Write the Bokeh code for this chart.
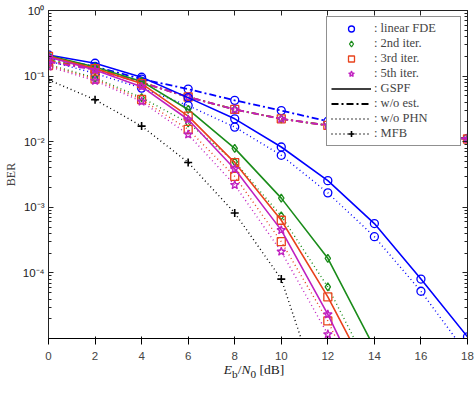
from bokeh.plotting import figure
from bokeh.layouts import column
from bokeh.models import (ColumnDataSource, Legend, LegendItem, FixedTicker,
                          LinearAxis, LogAxis, CustomJSTickFormatter, Div)
from bokeh.embed import file_html
from bokeh.resources import INLINE

# ---------------- data ----------------
snr = [0, 2, 4, 6, 8, 10, 12, 14, 16, 18]

lin_gspf = [0.21, 0.157, 0.096, 0.047, 0.0223, 0.0083, 0.00255, 5.65e-4, 8.05e-5, 1.06e-5]
lin_noest = [0.19, 0.14, 0.09, 0.0634, 0.0427, 0.0298, 0.0205, 0.016, 0.013, 0.0112]
lin_nophn = [0.17, 0.11, 0.0656, 0.0355, 0.0167, 0.0062, 0.00166, 3.56e-4, 5.25e-5, 5.7e-6]

it2_gspf = [0.205, 0.138, 0.083, 0.031, 0.0079, 0.00138, 1.67e-4, 7.2e-6]
it2_noest = [0.175, 0.13, 0.08, 0.048, 0.031, 0.0223, 0.0177, 0.0145, 0.0125, 0.011]
it2_nophn = [0.15, 0.094, 0.047, 0.0194, 0.00494, 7.4e-4, 6.1e-5, 2.5e-6]

it3_gspf = [0.2, 0.13, 0.077, 0.0245, 0.0048, 6.35e-4, 4.3e-5, 1.9e-6]
it3_noest = [0.17, 0.128, 0.08, 0.048, 0.031, 0.0223, 0.0177, 0.0145, 0.0125, 0.011]
it3_nophn = [0.145, 0.09, 0.044, 0.0154, 0.00297, 2.99e-4, 1.85e-5, 6e-7]

it5_gspf = [0.195, 0.124, 0.069, 0.0218, 0.00383, 4.49e-4, 2.33e-5, 8e-7]
it5_noest = [0.165, 0.125, 0.08, 0.048, 0.031, 0.0223, 0.0177, 0.0145, 0.0125, 0.011]
it5_nophn = [0.14, 0.085, 0.041, 0.0129, 0.00219, 2.11e-4, 1.16e-5, 3e-7]

mfb = [0.0877, 0.0437, 0.0173, 0.00483, 8.2e-4, 8.05e-5, 6e-7]

x_ticks = [0, 2, 4, 6, 8, 10, 12, 14, 16, 18]
y_ticks = [1e-4, 1e-3, 1e-2, 1e-1, 1.0]
y_tick_labels = ["10⁻⁴", "10⁻³", "10⁻²", "10⁻¹", "10⁰"]

series_names = [": linear FDE", ": 2nd iter.", ": 3rd iter.", ": 5th iter."]
style_names = [": GSPF", ": w/o est.", ": w/o PHN"]
mfb_name = ": MFB"
xlabel_html = "<i>E</i><sub>b</sub>/<i>N</i><sub>0</sub>&nbsp;[dB]"
ylabel = "BER"

# ---------------- styling ----------------
colors = ["#0000ff", "#1a8c1a", "#e8431c", "#c020c0"]
markers = ["circle", "diamond", "square", "star"]
msizes = [8, 8, 8, 9]
dashes = ["solid", "7 3 2 3", "1 3"]
lwidths = [1.6, 1.8, 1.4]

groups = [
    [lin_gspf, lin_noest, lin_nophn],
    [it2_gspf, it2_noest, it2_nophn],
    [it3_gspf, it3_noest, it3_nophn],
    [it5_gspf, it5_noest, it5_nophn],
]

p = figure(width=474, height=362, y_axis_type="log",
           x_range=(0, 18), y_range=(1e-5, 1),
           output_backend="svg", toolbar_location=None,
           min_border_left=45, min_border_right=7,
           min_border_top=10, min_border_bottom=21)
p.grid.visible = False
p.outline_line_color = "#222222"
p.background_fill_color = "white"
p.border_fill_color = "white"

marker_renderers = []
# draw order: dotted, dash-dot, solid
for s in [2, 1, 0]:
    for g in range(4):
        yv = groups[g][s]
        src = ColumnDataSource(dict(x=snr[:len(yv)], y=yv))
        p.line("x", "y", source=src, line_color=colors[g], line_width=lwidths[s],
               line_dash=dashes[s])
        r = p.scatter("x", "y", source=src, marker=markers[g], size=msizes[g],
                      line_color=colors[g], fill_color=None, line_width=1.3)
        if s == 0:
            marker_renderers.append(r)

msrc = ColumnDataSource(dict(x=snr[:len(mfb)], y=mfb))
mfb_line = p.line("x", "y", source=msrc, line_color="black", line_width=1.4, line_dash="1 3")
mfb_sc = p.scatter("x", "y", source=msrc, marker="cross", size=8,
                   line_color="black", line_width=1.6)

# legend-only black line samples (hidden renderers, shown only in the legend)
style_renderers = []
for s in range(3):
    ssrc = ColumnDataSource(dict(x=snr, y=groups[0][s]))
    rr = p.line("x", "y", source=ssrc, line_color="black",
                line_width=lwidths[s], line_dash=dashes[s])
    rr.visible = False
    style_renderers.append(rr)

items = [LegendItem(label=series_names[g], renderers=[marker_renderers[g]]) for g in range(4)]
items += [LegendItem(label=style_names[s], renderers=[style_renderers[s]]) for s in range(3)]
items.append(LegendItem(label=mfb_name, renderers=[mfb_line, mfb_sc]))

leg = Legend(items=items, location="top_right", margin=6, padding=4, spacing=0,
             glyph_width=40, glyph_height=15, label_height=15, label_width=82,
             label_standoff=3,
             label_text_font="Liberation Serif", label_text_font_size="12.5px",
             border_line_color="#222222", border_line_width=1,
             background_fill_color="white", background_fill_alpha=1.0,
             inactive_fill_alpha=0.0)
p.add_layout(leg)

# ---------------- axes ----------------
font_sans = "Liberation Sans"
xt = FixedTicker(ticks=x_ticks)
minor_y = [k * 10.0 ** d for d in range(-5, 0) for k in range(2, 10)]
yt = FixedTicker(ticks=y_ticks, minor_ticks=minor_y)

for ax in p.xaxis:
    ax.ticker = xt
    ax.major_label_text_font = font_sans
    ax.major_label_text_font_size = "11.5px"
    ax.major_label_standoff = 7
for ax in p.yaxis:
    ax.ticker = yt
    ax.major_label_overrides = {v: t for v, t in zip(y_ticks, y_tick_labels)}
    ax.major_label_text_font = font_sans
    ax.major_label_text_font_size = "11.5px"
    ax.major_label_standoff = 4
    ax.axis_label = ylabel
    ax.axis_label_text_font = "Liberation Serif"
    ax.axis_label_text_font_style = "normal"
    ax.axis_label_text_font_size = "12px"
    ax.axis_label_standoff = 2

blank = CustomJSTickFormatter(code="return '';")
top = LinearAxis(ticker=xt, formatter=blank)
right = LogAxis(ticker=yt, formatter=blank)
p.add_layout(top, "above")
p.add_layout(right, "right")
for ax in [top, right]:
    ax.major_label_standoff = 0

for ax in [p.xaxis[0], p.yaxis[0], top, right]:
    ax.axis_line_color = "#222222"
    ax.major_tick_line_color = "#222222"
    ax.minor_tick_line_color = "#222222"
    ax.major_tick_in = 5
    ax.major_tick_out = 0
    ax.minor_tick_in = 3
    ax.minor_tick_out = 0
    ax.major_label_text_color = "#222222"

# x-axis label (with subscripts) as real HTML text right under the plot
xlab = Div(text=xlabel_html, width=474, height=35, margin=(0, 0, 0, 0),
           styles={"font-family": "Liberation Serif", "font-size": "13.5px",
                   "color": "#222222", "text-align": "center",
                   "padding-left": "34px", "line-height": "15px",
                   "box-sizing": "border-box"})

layout = column(p, xlab, spacing=0)
open("out.html", "w").write(file_html(layout, INLINE))
